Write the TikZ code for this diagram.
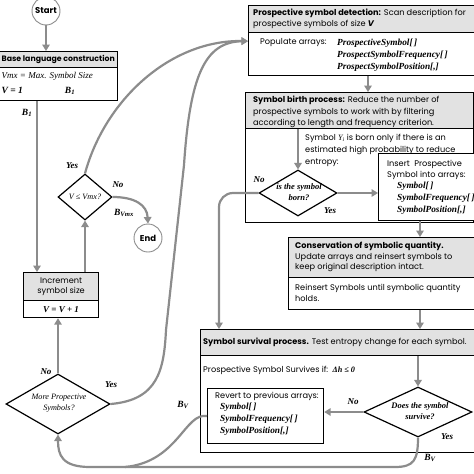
\documentclass[tikz,border=0pt]{standalone}
\usepackage{fontspec}
\setmainfont{Poppins}
\newfontfamily\lbl{Liberation Serif}
\usetikzlibrary{shapes.geometric,arrows.meta}
\definecolor{flowgray}{RGB}{140,140,140}
\definecolor{hdgray}{RGB}{226,226,226}
\begin{document}
\begin{tikzpicture}[x=1pt,y=-1pt,
  font=\fontsize{8.2}{11.5}\selectfont,
  flow/.style={draw=flowgray, line width=2.2pt, -{Triangle[width=7.5pt,length=6.5pt]}},
  flowplain/.style={draw=flowgray, line width=2.2pt},
  hd/.style={draw=black, line width=1.2pt, fill=hdgray, anchor=north west, inner sep=0pt},
  bd/.style={draw=black, line width=1.2pt, fill=white, anchor=north west, inner sep=0pt},
  term/.style={circle, draw=flowgray, line width=0.9pt, fill=white, minimum size=28pt, inner sep=0pt, font=\bfseries\fontsize{8.5}{9}\selectfont},
  dec/.style={diamond, draw=black, line width=1.2pt, fill=white, inner sep=0pt},
  dtxt/.style={inner sep=0pt, align=center, font=\lbl\bfseries\itshape\fontsize{8.5}{10.5}\selectfont},
  lab/.style={inner sep=0pt, font=\lbl\bfseries\itshape\fontsize{9}{10}\selectfont},
  mth/.style={inner sep=0pt, font=\lbl\bfseries\itshape\fontsize{9.5}{10}\selectfont},
  txt/.style={anchor=west, inner sep=0pt, align=left},
  arrays/.style={anchor=west, inner sep=0pt, align=left, font=\lbl\bfseries\itshape\fontsize{9.3}{11.8}\selectfont}
]
\useasboundingbox (0,0) rectangle (474,474);

% ---------- left column ----------
\node[term] (start) at (46,11) {Start};
\node[hd, minimum width=122pt, minimum height=16pt] (bshd) at (-5,51) {};
\node[txt, font=\bfseries\fontsize{7.8}{9}\selectfont] (bst) at (1.5,59) {Base language construction};
\node[bd, minimum width=122pt, minimum height=33pt] (bsbd) at (-5,67) {};
\node[txt, font=\lbl\itshape\fontsize{9}{10}\selectfont] (bsa) at (1.5,76) {Vmx = Max. Symbol Size};
\node[mth, anchor=west] (bsb) at (1.5,90) {V = 1};
\node[mth] (bsc) at (70,91) {B\textsubscript{1}};
\node[mth] (b1) at (27,113) {B\textsubscript{1}};

\node[hd, minimum width=75pt, minimum height=28pt, align=center, font=\fontsize{8.2}{10}\selectfont] (inchd) at (23,272) {Increment\\symbol size};
\node[bd, minimum width=75pt, minimum height=17pt, font=\lbl\bfseries\itshape\fontsize{9}{10}\selectfont] (incbd) at (23,300) {V = V + 1};

\node[dec, minimum width=54pt, minimum height=46pt] (vd) at (85,197) {};
\node[inner sep=0pt, font=\lbl\itshape\fontsize{8.2}{9}\selectfont] (vdt) at (85,197) {V ≤ Vmx?};
\node[term] (endc) at (148,238) {End};

\node[dec, minimum width=104pt, minimum height=60pt] (md) at (58,404) {};
\node[dtxt, font=\lbl\itshape\fontsize{8.2}{11}\selectfont] (mdt) at (59,403) {More Propective\\Symbols?};

% ---------- right column ----------
\node[hd, minimum width=226pt, minimum height=27pt] (prhd) at (248,5) {};
\node[txt, font=\fontsize{8.2}{10.8}\selectfont] (prt) at (253,19) {\textbf{Prospective symbol detection:} Scan description for\\prospective symbols of size \textbf{\textit{V}}};
\node[bd, minimum width=226pt, minimum height=43pt] (prbd) at (248,32) {};
\node[txt] (pra) at (260,43) {Populate arrays:};
\node[arrays] (prb) at (337,55) {ProspectiveSymbol[\,]\\ProspectSymbolFrequency[\,]\\ProspectSymbolPosition[,]};

\node[hd, minimum width=228pt, minimum height=36pt] (bihd) at (245,92) {};
\node[txt] (bit1) at (253,112) {\textbf{Symbol birth process:} Reduce the number of\\prospective symbols to work with by filtering\\according to length and frequency criterion.};
\node[bd, minimum width=228pt, minimum height=94pt] (bibd) at (245,128) {};
\node[txt, font=\fontsize{8.2}{12}\selectfont] (bit) at (305,150) {Symbol {\lbl\itshape Y\textsubscript{i}} is born only if there is an\\estimated high probability to reduce\\entropy:};
\node[dec, minimum width=78pt, minimum height=46pt] (bdm) at (298,193) {};
\node[dtxt] (bdt) at (299,192) {is the symbol\\born?};
\node[bd, minimum width=96pt, minimum height=67pt] (ins) at (378,153) {};
\node[txt, font=\fontsize{8.2}{11}\selectfont] (insa) at (387,170) {Insert\ \ Prospective\\Symbol into arrays:};
\node[arrays] (insb) at (397,198) {Symbol[\,]\\SymbolFrequency[\,]\\SymbolPosition[,]};

\node[hd, minimum width=186pt, minimum height=40pt] (cohd) at (288,237) {};
\node[txt, font=\fontsize{8.2}{10.5}\selectfont] (cot) at (295,257) {\textbf{Conservation of symbolic quantity.}\\Update arrays and reinsert symbols to\\keep original description intact.};
\node[bd, minimum width=186pt, minimum height=32pt] (cobd) at (288,277) {};
\node[txt, font=\fontsize{8.2}{10.5}\selectfont] (cob) at (295,293) {Reinsert Symbols until symbolic quantity\\holds.};

\node[hd, minimum width=274pt, minimum height=26pt] (svhd) at (200,329) {};
\node[txt] (svht) at (203,342) {\textbf{Symbol survival process.} Test entropy change for each symbol.};
\node[bd, minimum width=274pt, minimum height=97pt] (svbd) at (200,355) {};
\node[txt] (svt) at (203,370) {Prospective Symbol Survives if:\ \ {\lbl\bfseries\itshape Δh ≤ 0}};
\node[bd, minimum width=116pt, minimum height=55pt] (rv) at (207,388) {};
\node[txt] (rva) at (215,396) {Revert to previous arrays:};
\node[arrays] (rvb) at (220,419) {Symbol[\,]\\SymbolFrequency[\,]\\SymbolPosition[,]};
\node[dec, minimum width=108pt, minimum height=50pt] (sd) at (418,412) {};
\node[dtxt] (sdt) at (420,411) {Does the symbol\\survive?};

% ---------- labels ----------
\node[lab] (y1) at (72,166) {Yes};
\node[lab] (n1) at (118,185) {No};
\node[mth] (bvmx) at (124,213) {B\textsubscript{Vmx}};
\node[lab] (n2) at (46,372) {No};
\node[lab] (y2) at (111,385) {Yes};
\node[mth] (bv1) at (183,405) {B\textsubscript{V}};
\node[lab] (n3) at (259,180) {No};
\node[lab] (y3) at (330,211) {Yes};
\node[lab] (n4) at (353,402) {No};
\node[lab] (y4) at (447,437) {Yes};
\node[mth] (bv2) at (430,458) {B\textsubscript{V}};

% ---------- helper coordinates ----------
\coordinate (xa) at (37,0);
\coordinate (xb) at (368,0);
\coordinate (xc) at (420,0);
\coordinate (xn) at (219,0);
\coordinate (mrg) at (125,467);

% ---------- connectors ----------
\draw[flow] (start.south) -- (start.south |- bshd.north);
\draw[flow] (bsbd.south -| xa) -- (inchd.north -| xa);
\draw[flow] (inchd.north -| vd.south) -- (vd.south);
\draw[flow] (vd.north) .. controls (105,100) and (170,40) .. ([yshift=13pt]prbd.west);
\draw[flow] (vd.east) .. controls (135,197) and (147,205) .. (endc.north);
\draw[flow] (md.north) -- (md.north |- incbd.south);
\draw[flow] (md.east) .. controls (158,400) and (164,370) .. (166,330) -- (184,165) .. controls (190,75) and (205,42) .. ([yshift=13pt]prbd.west);
\draw[flow] (prbd.south -| xb) -- (bihd.north -| xb);
\draw[flow] (bihd.south -| bdm.north) -- (bdm.north);
\draw[flow] (bdm.east) -- (bdm.east -| ins.west);
\draw[flow, rounded corners=14pt] (bdm.west) -| (svhd.north -| xn);
\draw[flow] (ins.south -| xc) -- (cohd.north -| xc);
\draw[flow] (cobd.south -| xc) -- (svhd.north -| xc);
\draw[flow] (svhd.south -| sd.north) -- (sd.north);
\draw[flow] (sd.west) -- (sd.west -| rv.east);
\draw[flow] (sd.south) .. controls (418,460) and (414,467) .. (395,467) -- (90,467) .. controls (62,467) and (58,455) .. (md.south);
\draw[flowplain] (rv.west) .. controls (185,412) and (178,462) .. (mrg);
\end{tikzpicture}
\end{document}
